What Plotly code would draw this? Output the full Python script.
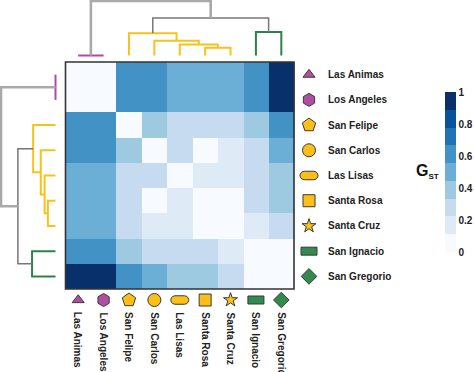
import numpy as np
import plotly.graph_objects as go

sites = ["Las Animas", "Los Angeles", "San Felipe", "San Carlos", "Las Lisas",
         "Santa Rosa", "Santa Cruz", "San Ignacio", "San Gregorio"]
symbols = ["triangle-up", "hexagon", "pentagon", "circle", None, "square", "star", None, "diamond"]
sizes = [10.5, 13, 14, 13, 0, 12, 10.5, 0, 12]
fills = ["#b04ea5", "#b04ea5", "#fcbf17", "#fcbf17", "#fcbf17", "#fcbf17", "#fcbf17", "#338a4e", "#338a4e"]

gst = [
    [0.03, 0.03, 0.61, 0.61, 0.50, 0.50, 0.50, 0.61, 0.95],
    [0.03, 0.03, 0.61, 0.61, 0.50, 0.50, 0.50, 0.61, 0.95],
    [0.61, 0.61, 0.03, 0.39, 0.28, 0.28, 0.28, 0.39, 0.61],
    [0.61, 0.61, 0.39, 0.03, 0.28, 0.03, 0.17, 0.28, 0.50],
    [0.50, 0.50, 0.28, 0.28, 0.03, 0.17, 0.17, 0.28, 0.39],
    [0.50, 0.50, 0.28, 0.03, 0.17, 0.03, 0.03, 0.28, 0.39],
    [0.50, 0.50, 0.28, 0.17, 0.17, 0.03, 0.03, 0.17, 0.28],
    [0.61, 0.61, 0.39, 0.28, 0.28, 0.28, 0.17, 0.03, 0.03],
    [0.95, 0.95, 0.61, 0.50, 0.39, 0.39, 0.28, 0.03, 0.03],
]
blues = ["#f7fbff", "#deebf7", "#c6dbef", "#9ecae1", "#6baed6",
         "#4292c6", "#2171b5", "#08519c", "#08306b"]
cbar_ticks = [0, 0.2, 0.4, 0.6, 0.8, 1]

PURPLE, YELLOW, GREEN, GRAY, LIGHT = "#ad4aa6", "#f8c11c", "#2c8249", "#777777", "#a9a9a9"
# (merge height, left child, right child, colour)
tree = (1.00,
        (0.00, 0, 1, PURPLE),
        (0.69,
         (0.41, 2, (0.27, 3, (0.20, 4, (0.14, 5, 6, YELLOW), YELLOW), YELLOW), YELLOW),
         (0.43, 7, 8, GREEN),
         GRAY),
        LIGHT)

W, H = 474, 372
L, R, T, B = 65.5, 294.0, 62.0, 289.0
cw, ch = (R - L) / 9, (B - T) / 9
x_range = [-0.5 - L / cw, 8.5 + (W - R) / cw]
y_range = [8.5 + (H - B) / ch, -0.5 - T / ch]

stepped = []
for i, c in enumerate(blues):
    stepped += [[i / 9, c], [(i + 1) / 9, c]]

fig = go.Figure()
n = len(sites)
fig.add_trace(go.Heatmap(
    z=gst, x=list(range(n)), y=list(range(n)), zmin=0, zmax=1, colorscale=stepped,
    xgap=0, ygap=0, hoverinfo="skip",
    colorbar=dict(x=445 / W, xanchor="left", y=1 - 92 / H, yanchor="top",
                  len=160 / H, lenmode="fraction", thickness=10.5, thicknessmode="pixels",
                  xpad=0, ypad=0, outlinewidth=0, borderwidth=0, ticks="", ticklen=4,
                  tickvals=cbar_ticks, ticktext=[str(t) for t in cbar_ticks],
                  tickfont=dict(family="Liberation Sans", size=10, color="#222", weight="bold")),
))

leaf_pos = 55.5  # pixel distance of the leaves from the figure edge
span = 54.5


def draw(node, orient):
    if isinstance(node, int):
        return node, 0.0
    h, a, b, col = node
    pa, ha = draw(a, orient)
    pb, hb = draw(b, orient)
    ps = np.array([pa, pa, pb, pb])
    hs = np.array([ha, h, h, hb])
    wd = 2.6 if col == LIGHT else (1.5 if col == GRAY else 2)
    if orient == "top":
        xs, ys = ps, y_range[1] + (leaf_pos - hs * span) / ch
    else:
        xs, ys = x_range[0] + (leaf_pos - hs * span) / cw, ps
    fig.add_trace(go.Scatter(x=xs, y=ys, mode="lines", line=dict(color=col, width=wd),
                             hoverinfo="skip", showlegend=False, cliponaxis=False))
    return (pa + pb) / 2, h


draw(tree, "top")
draw(tree, "left")

bottom_row = 8.5 + 11 / ch
right_col = 8.5 + 15 / cw
idx = [i for i, s in enumerate(symbols) if s]
fig.add_trace(go.Scatter(
    x=idx + [right_col] * len(idx), y=[bottom_row] * len(idx) + idx, mode="markers",
    marker=dict(symbol=[symbols[i] for i in idx] * 2, size=[sizes[i] for i in idx] * 2,
                color=[fills[i] for i in idx] * 2, opacity=1, line=dict(color="#3a3a3a", width=1)),
    hoverinfo="skip", showlegend=False))


def stadium(cx, cy, w, h):
    r = h / 2
    t = np.linspace(-np.pi / 2, np.pi / 2, 12)
    px = np.r_[w / 2 - r + r * np.cos(t), -w / 2 + r - r * np.cos(t[::-1])]
    py = np.r_[r * np.sin(t), r * np.sin(t[::-1])]
    return cx + px / cw, cy + py / ch


def box(cx, cy, w, h):
    px = np.array([-w, w, w, -w, -w]) / 2
    py = np.array([-h, -h, h, h, -h]) / 2
    return cx + px / cw, cy + py / ch


for cx, cy in [(4, bottom_row), (right_col, 4)]:
    xs, ys = stadium(cx, cy, 18, 8.5)
    fig.add_trace(go.Scatter(x=list(xs) + [xs[0]], y=list(ys) + [ys[0]], mode="lines", fill="toself",
                             fillcolor=fills[4], line=dict(color="#3a3a3a", width=1),
                             hoverinfo="skip", showlegend=False))
for cx, cy in [(7, bottom_row), (right_col, 7)]:
    xs, ys = box(cx, cy, 16, 8)
    fig.add_trace(go.Scatter(x=xs, y=ys, mode="lines", fill="toself",
                             fillcolor=fills[7], line=dict(color="#3a3a3a", width=1),
                             hoverinfo="skip", showlegend=False))

font = dict(family="Liberation Sans", size=10, color="#222", weight="bold")
ann = []
for i, s in enumerate(sites):
    ann.append(dict(x=i, y=8.5 + 23 / ch, text=s, textangle=90, showarrow=False, xanchor="center",
                    yanchor="top", font=font, xref="x", yref="y", borderpad=0, borderwidth=0))
    ann.append(dict(x=8.5 + 33 / cw, y=i, text=s, showarrow=False, xanchor="left", yanchor="middle",
                    font=font, xref="x", yref="y", borderpad=0))
ann.append(dict(x=414 / W, y=1 - 171 / H, xref="paper", yref="paper", xanchor="left", yanchor="middle",
                showarrow=False, text="<b>G<sub><span style='font-size:8px'>ST</span></sub></b>",
                font=dict(family="Liberation Sans", size=16, color="#111")))

fig.update_layout(
    width=W, height=H, margin=dict(l=0, r=0, t=0, b=0, autoexpand=False),
    paper_bgcolor="white", plot_bgcolor="white", showlegend=False, annotations=ann,
    xaxis=dict(range=x_range, visible=False, fixedrange=True),
    yaxis=dict(range=y_range, visible=False, fixedrange=True),
    shapes=[dict(type="rect", xref="x", yref="y", x0=-0.5, x1=8.5, y0=-0.5, y1=8.5,
                 line=dict(color="#333333", width=1.6), layer="above")],
)
fig.write_html("out.html", config=dict(displayModeBar=False),
               post_script="document.body.style.margin='0';document.body.style.overflow='hidden';")
